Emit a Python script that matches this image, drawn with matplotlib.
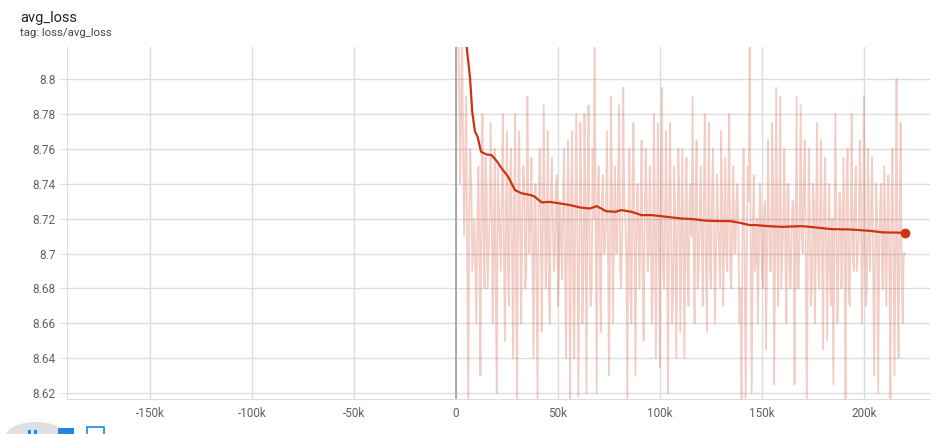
import numpy as np
import matplotlib
matplotlib.use('Agg')
import matplotlib.pyplot as plt
from matplotlib.patches import Circle, Rectangle

plt.rcParams['font.family'] = ['Roboto', 'DejaVu Sans']

# raw avg_loss at whole 1k steps (1k .. 220k)
raw_steps_a = np.arange(1, 221) * 1000
raw_loss_a = [
    8.86, 8.74, 8.83, 8.71, 8.79, 8.61, 8.76, 8.69, 8.72, 8.66,
    8.75, 8.63, 8.78, 8.68, 8.74, 8.70, 8.775, 8.66, 8.76, 8.62,
    8.73, 8.69, 8.78, 8.65, 8.77, 8.67, 8.76, 8.64, 8.78, 8.615,
    8.77, 8.66, 8.75, 8.68, 8.79, 8.70, 8.755, 8.64, 8.74, 8.615,
    8.76, 8.655, 8.785, 8.68, 8.77, 8.66, 8.755, 8.69, 8.74, 8.67,
    8.73, 8.685, 8.76, 8.64, 8.765, 8.615, 8.77, 8.64, 8.78, 8.618,
    8.775, 8.66, 8.78, 8.62, 8.785, 8.67, 8.76, 8.83, 8.62, 8.75,
    8.655, 8.745, 8.70, 8.77, 8.63, 8.79, 8.66, 8.75, 8.70, 8.785,
    8.68, 8.795, 8.72, 8.615, 8.76, 8.66, 8.775, 8.63, 8.74, 8.68,
    8.765, 8.65, 8.76, 8.69, 8.75, 8.66, 8.78, 8.64, 8.775, 8.635,
    8.795, 8.68, 8.77, 8.62, 8.775, 8.66, 8.75, 8.64, 8.76, 8.655,
    8.76, 8.64, 8.755, 8.67, 8.74, 8.79, 8.66, 8.765, 8.69, 8.75,
    8.67, 8.78, 8.655, 8.775, 8.68, 8.76, 8.66, 8.745, 8.70, 8.77,
    8.67, 8.755, 8.69, 8.78, 8.68, 8.75, 8.70, 8.74, 8.66, 8.615,
    8.76, 8.615, 8.75, 8.83, 8.62, 8.745, 8.70, 8.66, 8.74, 8.69,
    8.72, 8.645, 8.765, 8.69, 8.775, 8.625, 8.795, 8.67, 8.79, 8.70,
    8.76, 8.66, 8.74, 8.68, 8.73, 8.625, 8.79, 8.68, 8.785, 8.70,
    8.765, 8.615, 8.76, 8.67, 8.74, 8.66, 8.775, 8.68, 8.765, 8.645,
    8.755, 8.65, 8.74, 8.67, 8.625, 8.78, 8.66, 8.735, 8.68, 8.755,
    8.615, 8.76, 8.67, 8.78, 8.69, 8.75, 8.70, 8.765, 8.66, 8.79,
    8.67, 8.76, 8.69, 8.755, 8.63, 8.74, 8.62, 8.73, 8.68, 8.75,
    8.67, 8.745, 8.615, 8.76, 8.63, 8.80, 8.64, 8.775, 8.66, 8.70,
]

# raw avg_loss at the half steps (1.5k .. 219.5k)
raw_steps_b = np.arange(1, 220) * 1000 + 500
raw_loss_b = [
    8.80, 8.78, 8.76, 8.75, 8.70, 8.72, 8.74, 8.705, 8.69, 8.72,
    8.70, 8.74, 8.71, 8.755, 8.68, 8.72, 8.73, 8.70, 8.68, 8.75,
    8.71, 8.74, 8.70, 8.72, 8.69, 8.745, 8.70, 8.73, 8.67, 8.74,
    8.71, 8.725, 8.74, 8.69, 8.73, 8.72,
    8.70, 8.73, 8.68, 8.72, 8.74, 8.70, 8.73, 8.71, 8.68, 8.735,
    8.72, 8.70, 8.745, 8.69, 8.71, 8.73, 8.69, 8.72, 8.70, 8.74,
    8.68, 8.725, 8.71, 8.70, 8.73, 8.69, 8.72, 8.74, 8.70, 8.68,
    8.72, 8.71, 8.735, 8.69, 8.73, 8.70, 8.72,
    8.71, 8.69, 8.735, 8.72, 8.70, 8.745, 8.69, 8.71, 8.73, 8.70,
    8.72, 8.68, 8.74, 8.70, 8.72, 8.71, 8.73, 8.69, 8.715, 8.735,
    8.70, 8.72, 8.68, 8.73, 8.71, 8.70, 8.74, 8.69, 8.72, 8.70,
    8.73, 8.71, 8.68, 8.72, 8.70, 8.74, 8.71,
    8.70, 8.72, 8.69, 8.73, 8.71, 8.70, 8.74, 8.68, 8.72, 8.705,
    8.73, 8.70, 8.72, 8.69, 8.735, 8.71, 8.70, 8.72, 8.68, 8.73,
    8.71, 8.70, 8.74, 8.69, 8.72, 8.70, 8.73, 8.71, 8.68, 8.72,
    8.70, 8.69, 8.73, 8.70, 8.71, 8.69, 8.72,
    8.70, 8.72, 8.68, 8.73, 8.70, 8.72, 8.69, 8.74, 8.70, 8.71,
    8.73, 8.68, 8.72, 8.70, 8.735, 8.69, 8.71, 8.73, 8.70, 8.68,
    8.72, 8.71, 8.74, 8.69, 8.70, 8.72, 8.68, 8.73, 8.71, 8.70,
    8.72, 8.69, 8.73, 8.70, 8.71, 8.68, 8.72,
    8.70, 8.72, 8.69, 8.73, 8.71, 8.70, 8.74, 8.68, 8.72, 8.70,
    8.73, 8.69, 8.71, 8.735, 8.70, 8.72, 8.68, 8.71, 8.73, 8.70,
    8.69, 8.72, 8.70, 8.74, 8.68, 8.71, 8.72, 8.69, 8.73, 8.70,
    8.71, 8.68, 8.72, 8.69, 8.70,
]

# smoothed curve
smooth_steps = [3000, 5200, 6900, 8000, 9300, 10600, 12300, 15000, 17500, 20000,
                22400, 25600, 28900, 32200, 36800, 38700, 42000, 46000, 51000, 55900,
                60800, 65700, 69000, 73500, 78000, 81200, 86100, 91000, 95900, 100800,
                105700, 110300, 116300, 122900, 129400, 134300, 139200, 144100, 147000, 153100,
                159700, 169500, 176000, 183800, 193100, 202900, 209500, 216000, 220000]
smooth_loss = [8.86, 8.819, 8.8006, 8.781, 8.770, 8.767, 8.7583, 8.7568, 8.7564, 8.753,
               8.7488, 8.744, 8.7364, 8.7345, 8.7335, 8.7325, 8.7293, 8.7296, 8.7287, 8.7278,
               8.7264, 8.7258, 8.7272, 8.7243, 8.7239, 8.7249, 8.7239, 8.7220, 8.7220, 8.7214,
               8.7207, 8.7201, 8.7197, 8.7188, 8.7186, 8.7186, 8.7176, 8.7163, 8.7163, 8.7157,
               8.7153, 8.7157, 8.7150, 8.7140, 8.7138, 8.7130, 8.7121, 8.7120, 8.7119]

xticks = [-150000, -100000, -50000, 0, 50000, 100000, 150000, 200000]
xtick_labels = ['-150k', '-100k', '-50k', '0', '50k', '100k', '150k', '200k']
yticks = [8.62, 8.64, 8.66, 8.68, 8.70, 8.72, 8.74, 8.76, 8.78, 8.80]
ytick_labels = ['8.62', '8.64', '8.66', '8.68', '8.7', '8.72', '8.74', '8.76', '8.78', '8.8']

line_color = '#cc3311'

# merge both halves of the raw series in step order
raw_steps = np.concatenate([raw_steps_a, raw_steps_b])
raw_loss = np.concatenate([raw_loss_a, raw_loss_b])
order = np.argsort(raw_steps)
raw_steps = raw_steps[order]
raw_loss = raw_loss[order]

fig = plt.figure(figsize=(9.4, 4.34), dpi=100)
ax = fig.add_axes([67 / 940, 1 - 399 / 434, 863 / 940, 352 / 434])

ax.plot(raw_steps, raw_loss, color=line_color, alpha=0.24, lw=1.3, zorder=2)
ax.plot(smooth_steps, smooth_loss, color=line_color, lw=1.6, zorder=3)
ax.plot(smooth_steps[-1], smooth_loss[-1], 'o', color=line_color, ms=6, zorder=4)

ax.axvline(0, color='#9e9e9e', lw=1.2, zorder=1)

ax.set_xlim(-190700, 232400)
ax.set_ylim(8.6166, 8.8184)
ax.set_xticks(xticks)
ax.set_xticklabels(xtick_labels)
ax.set_yticks(yticks)
ax.set_yticklabels(ytick_labels)
ax.grid(True, color='#dddddd', lw=1.0, zorder=0)
ax.set_axisbelow(True)

for side in ['top', 'right']:
    ax.spines[side].set_visible(False)
for side in ['left', 'bottom']:
    ax.spines[side].set_color('#dddddd')
ax.tick_params(axis='x', length=0, pad=6, labelsize=8.5, labelcolor='#616161')
ax.tick_params(axis='y', length=5, color='#dddddd', pad=3, labelsize=8.5, labelcolor='#616161')

fig.text(20 / 940, 1 - 18 / 434, 'avg_loss', fontsize=10.5, color='#212121', va='center')
fig.text(20 / 940, 1 - 33 / 434, 'tag: loss/avg_loss', fontsize=8.2, color='#424242', va='center')

# toolbar icons peeking in at the bottom edge
fig.patches.append(Circle((36 / 940, 1 - 436 / 434), 14 / 434, transform=fig.transFigure,
                          facecolor='#e0e0e0', edgecolor='none'))
fig.patches.append(Rectangle((28 / 940, 0), 3 / 940, 4 / 434, transform=fig.transFigure,
                             facecolor='#1e88e5', edgecolor='none'))
fig.patches.append(Rectangle((34 / 940, 0), 3 / 940, 4 / 434, transform=fig.transFigure,
                             facecolor='#1e88e5', edgecolor='none'))
fig.patches.append(Rectangle((58 / 940, 0), 16 / 940, 6 / 434, transform=fig.transFigure,
                             facecolor='#1e88e5', edgecolor='none'))
fig.patches.append(Rectangle((87 / 940, -2 / 434), 17 / 940, 9 / 434, transform=fig.transFigure,
                             facecolor='none', edgecolor='#1e88e5', lw=1.2))

fig.savefig('out.png', dpi=100)
